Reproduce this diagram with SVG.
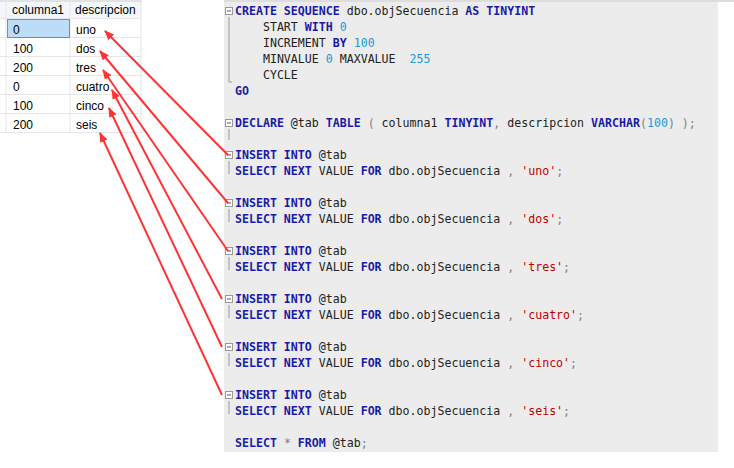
<svg xmlns="http://www.w3.org/2000/svg" width="734" height="468" viewBox="0 0 734 468">
<style>
.t{font-family:"Liberation Sans",Arial,sans-serif;font-size:12px;fill:#000}
.c{font-family:"DejaVu Sans Mono","Liberation Mono",monospace;font-size:11.6px;fill:#222}
.k{fill:#1a1aa6;font-weight:bold}
.n{fill:#1a9ad6}
.s{fill:#c00000}
.g{fill:#808080}
.a{stroke:#ff3333;stroke-width:2;fill:none;marker-end:url(#ah)}
.box{fill:#fff;stroke:#999;stroke-width:1}
</style>
<defs><marker id="ah" markerWidth="10" markerHeight="8" refX="9" refY="4" orient="auto" markerUnits="userSpaceOnUse"><path d="M0,0 L10,4 L0,8z" fill="#ff3333"/></marker></defs>
<rect width="734" height="468" fill="#fff"/>
<g id="table">
<rect x="0" y="0" width="142" height="18" fill="#f3f7fc"/>
<line x1="0" y1="1" x2="142" y2="1" stroke="#ccc"/>
<line x1="6" y1="0" x2="6" y2="132" stroke="#e6e6e6"/>
<line x1="70" y1="0" x2="70" y2="132" stroke="#e6e6e6"/>
<line x1="141" y1="0" x2="141" y2="132" stroke="#e6e6e6"/>
<g stroke="#e6e6e6"><line x1="0" y1="18.5" x2="142" y2="18.5"/><line x1="0" y1="37.5" x2="142" y2="37.5"/><line x1="0" y1="56.5" x2="142" y2="56.5"/><line x1="0" y1="75.5" x2="142" y2="75.5"/><line x1="0" y1="94.5" x2="142" y2="94.5"/><line x1="0" y1="113.5" x2="142" y2="113.5"/><line x1="0" y1="132.5" x2="142" y2="132.5"/></g>
<rect x="7.5" y="19.5" width="62" height="18" fill="#bcdcf8" stroke="#333" stroke-dasharray="1,1"/>
<text class="t" x="12" y="14">columna1</text><text class="t" x="75" y="14">descripcion</text>
<text class="t" x="13" y="34">0</text><text class="t" x="76" y="34">uno</text>
<text class="t" x="13" y="53">100</text><text class="t" x="76" y="53">dos</text>
<text class="t" x="13" y="72">200</text><text class="t" x="76" y="72">tres</text>
<text class="t" x="13" y="91">0</text><text class="t" x="76" y="91">cuatro</text>
<text class="t" x="13" y="110">100</text><text class="t" x="76" y="110">cinco</text>
<text class="t" x="13" y="129">200</text><text class="t" x="76" y="129">seis</text>
</g>
<g id="code">
<rect x="224" y="2" width="494" height="450" fill="#ececec"/>
<line x1="224" y1="1" x2="734" y2="1" stroke="#bbb"/>
<g stroke="#999" fill="none"><path d="M229,17 V82 H232"/><path d="M229,129 V140"/><path d="M229,161 V174"/><path d="M229,209 V222"/><path d="M229,257 V270"/><path d="M229,305 V318"/><path d="M229,353 V366"/><path d="M229,401 V414"/></g>
<g><rect class="box" x="225.5" y="7.5" width="7" height="7"/><rect class="box" x="225.5" y="119.5" width="7" height="7"/><rect class="box" x="225.5" y="151.5" width="7" height="7"/><rect class="box" x="225.5" y="199.5" width="7" height="7"/><rect class="box" x="225.5" y="247.5" width="7" height="7"/><rect class="box" x="225.5" y="295.5" width="7" height="7"/><rect class="box" x="225.5" y="343.5" width="7" height="7"/><rect class="box" x="225.5" y="391.5" width="7" height="7"/></g>
<g stroke="#555"><line x1="227" y1="11" x2="231" y2="11"/><line x1="227" y1="123" x2="231" y2="123"/><line x1="227" y1="155" x2="231" y2="155"/><line x1="227" y1="203" x2="231" y2="203"/><line x1="227" y1="251" x2="231" y2="251"/><line x1="227" y1="299" x2="231" y2="299"/><line x1="227" y1="347" x2="231" y2="347"/><line x1="227" y1="395" x2="231" y2="395"/></g>
<text class="c" x="235" y="15" xml:space="preserve"><tspan class="k">CREATE SEQUENCE</tspan> dbo.objSecuencia <tspan class="k">AS TINYINT</tspan></text>
<text class="c" x="235" y="31" xml:space="preserve">    START <tspan class="k">WITH</tspan> <tspan class="n">0</tspan></text>
<text class="c" x="235" y="47" xml:space="preserve">    INCREMENT <tspan class="k">BY</tspan> <tspan class="n">100</tspan></text>
<text class="c" x="235" y="63" xml:space="preserve">    MINVALUE <tspan class="n">0</tspan> MAXVALUE  <tspan class="n">255</tspan></text>
<text class="c" x="235" y="79" xml:space="preserve">    CYCLE</text>
<text class="c k" x="235" y="95">GO</text>
<text class="c" x="235" y="127" xml:space="preserve"><tspan class="k">DECLARE</tspan> @tab <tspan class="k">TABLE</tspan> <tspan class="g">(</tspan> columna1 <tspan class="k">TINYINT</tspan><tspan class="g">,</tspan> descripcion <tspan class="k">VARCHAR</tspan><tspan class="g">(</tspan><tspan class="n">100</tspan><tspan class="g">) );</tspan></text>
<text class="c" x="235" y="159" xml:space="preserve"><tspan class="k">INSERT INTO</tspan> @tab</text>
<text class="c" x="235" y="175" xml:space="preserve"><tspan class="k">SELECT NEXT</tspan> VALUE <tspan class="k">FOR</tspan> dbo.objSecuencia <tspan class="g">,</tspan> <tspan class="s">'uno'</tspan><tspan class="g">;</tspan></text>
<text class="c" x="235" y="207" xml:space="preserve"><tspan class="k">INSERT INTO</tspan> @tab</text>
<text class="c" x="235" y="223" xml:space="preserve"><tspan class="k">SELECT NEXT</tspan> VALUE <tspan class="k">FOR</tspan> dbo.objSecuencia <tspan class="g">,</tspan> <tspan class="s">'dos'</tspan><tspan class="g">;</tspan></text>
<text class="c" x="235" y="255" xml:space="preserve"><tspan class="k">INSERT INTO</tspan> @tab</text>
<text class="c" x="235" y="271" xml:space="preserve"><tspan class="k">SELECT NEXT</tspan> VALUE <tspan class="k">FOR</tspan> dbo.objSecuencia <tspan class="g">,</tspan> <tspan class="s">'tres'</tspan><tspan class="g">;</tspan></text>
<text class="c" x="235" y="303" xml:space="preserve"><tspan class="k">INSERT INTO</tspan> @tab</text>
<text class="c" x="235" y="319" xml:space="preserve"><tspan class="k">SELECT NEXT</tspan> VALUE <tspan class="k">FOR</tspan> dbo.objSecuencia <tspan class="g">,</tspan> <tspan class="s">'cuatro'</tspan><tspan class="g">;</tspan></text>
<text class="c" x="235" y="351" xml:space="preserve"><tspan class="k">INSERT INTO</tspan> @tab</text>
<text class="c" x="235" y="367" xml:space="preserve"><tspan class="k">SELECT NEXT</tspan> VALUE <tspan class="k">FOR</tspan> dbo.objSecuencia <tspan class="g">,</tspan> <tspan class="s">'cinco'</tspan><tspan class="g">;</tspan></text>
<text class="c" x="235" y="399" xml:space="preserve"><tspan class="k">INSERT INTO</tspan> @tab</text>
<text class="c" x="235" y="415" xml:space="preserve"><tspan class="k">SELECT NEXT</tspan> VALUE <tspan class="k">FOR</tspan> dbo.objSecuencia <tspan class="g">,</tspan> <tspan class="s">'seis'</tspan><tspan class="g">;</tspan></text>
<text class="c" x="235" y="447" xml:space="preserve"><tspan class="k">SELECT</tspan> <tspan class="g">*</tspan> <tspan class="k">FROM</tspan> @tab<tspan class="g">;</tspan></text>
</g>
<g id="connectors">
<line class="a" x1="228" y1="155" x2="105" y2="31"/>
<line class="a" x1="228" y1="203" x2="100" y2="51"/>
<line class="a" x1="228" y1="251" x2="103" y2="70"/>
<line class="a" x1="222" y1="299" x2="112" y2="90"/>
<line class="a" x1="222" y1="347" x2="109" y2="108"/>
<line class="a" x1="222" y1="395" x2="100" y2="133"/>
</g>
</svg>
